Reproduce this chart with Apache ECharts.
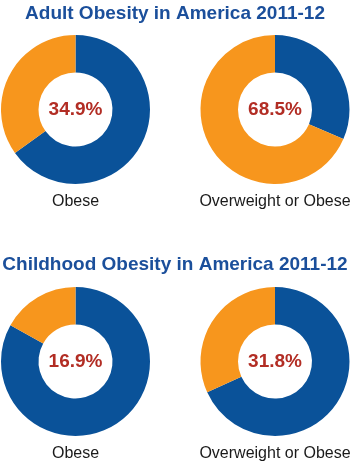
<!DOCTYPE html>
<html>
<head>
<meta charset="utf-8">
<script src="https://cdn.jsdelivr.net/npm/echarts@6/dist/echarts.min.js"></script>
<style>
  html, body { margin: 0; padding: 0; background: #fff; }
  #main { width: 350px; height: 466px; }
</style>
</head>
<body>
<div id="main"></div>
<script>
// Obesity donuts
var dom = document.getElementById("main");
var myChart = echarts.init(dom);

var groupTitles = ['Adult Obesity in America 2011-12', 'Childhood Obesity in America 2011-12'];
var captions = ['Obese', 'Overweight or Obese', 'Obese', 'Overweight or Obese'];
var pctValues = [34.9, 68.5, 16.9, 31.8];
var restValues = [65.1, 31.5, 83.1, 68.2];

var centers = [[75.5, 109.5], [275, 109.5], [75.5, 361.5], [275, 361.5]];
var captionTops = [194, 194, 446, 446];

var option;

var titles = [
    { text: groupTitles[0], left: 175, top: 4 },
    { text: groupTitles[1], left: 175, top: 255 }
].map(function (t) {
    return {
        text: t.text, left: t.left, top: t.top, textAlign: 'center', padding: 0,
        textStyle: { fontFamily: 'Liberation Sans', fontWeight: 'bold', fontSize: 19, color: '#1b4f9b' }
    };
});

captions.forEach(function (c, i) {
    titles.push({
        text: c, left: centers[i][0], top: captionTops[i], textAlign: 'center', padding: 0,
        textStyle: { fontFamily: 'Liberation Sans', fontWeight: 'normal', fontSize: 16, color: '#1a1a1a' }
    });
});

option = {
    animation: false,
    title: titles,
    series: pctValues.map(function (p, i) {
        return {
            type: 'pie',
            radius: [37, 74.5],
            center: centers[i],
            startAngle: 90,
            clockwise: true,
            silent: true,
            labelLine: { show: false },
            data: [
                { value: restValues[i], itemStyle: { color: '#0a5299' }, label: { show: false } },
                {
                    value: p, itemStyle: { color: '#f7961d' },
                    label: {
                        show: true, position: 'center', formatter: p.toFixed(1) + '%',
                        padding: [4, 0, 0, 0],
                        fontFamily: 'Liberation Sans', fontWeight: 'bold', fontSize: 19, color: '#b22d24'
                    }
                }
            ]
        };
    })
};

if (option && typeof option === 'object') {
    myChart.setOption(option);
}
</script>
</body>
</html>
